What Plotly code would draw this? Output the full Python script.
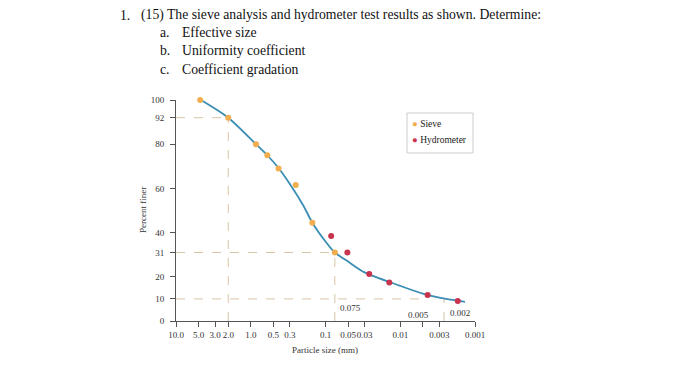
import plotly.graph_objects as go

# ---- data ----
sieve_size = [4.75, 2.0, 0.85, 0.6, 0.425, 0.25, 0.15, 0.075]
sieve_pct = [100, 92, 80, 75, 69, 61.5, 44.5, 31]

hydro_size = [0.084, 0.051, 0.026, 0.014, 0.0043, 0.0017]
hydro_pct = [38.5, 31, 21.3, 17.4, 11.8, 9.1]

curve_size = [4.64, 2.0, 0.85, 0.6, 0.42, 0.3, 0.2, 0.15, 0.1, 0.075,
              0.05, 0.03, 0.01, 0.005, 0.003, 0.00136]
curve_pct = [100, 92, 80, 75, 69, 62, 52.5, 44.5, 36, 31,
             26.9, 22, 15.9, 12.4, 10.6, 8.7]

ref_pct = [92, 31, 10]          # percent finer reference levels
ref_size = [2.0, 0.075, 0.0026]  # corresponding sizes (vertical lines)
ref_hend = [2.0, 0.075, 0.0045]  # end of horizontal dashed lines

x_tickvals = [10, 5, 3, 2, 1, 0.5, 0.3, 0.1, 0.05, 0.03, 0.01, 0.005, 0.003, 0.001]
x_ticktext = ["10.0", "5.0", "3.0", "2.0", "1.0", "0.5", "0.3", "0.1", "0.05", "0.03",
              "0.01", "", "0.003", "0.001"]
y_tickvals = [0, 10, 20, 31, 40, 60, 80, 92, 100]

legend_names = ["Sieve", "Hydrometer"]

header = [
    ("1.", 118, 15),
    ("(15) The sieve analysis and hydrometer test results as shown. Determine:", 139, 15),
    ("a.", 158, 33),
    ("Effective size", 180, 33),
    ("b.", 158, 51),
    ("Uniformity coefficient", 180, 51),
    ("c.", 158, 69),
    ("Coefficient gradation", 180, 69),
]

# ---- layout geometry (target page pixels; page body adds an 8px offset) ----
W, H = 700, 379
OFF = 8
L, R, T, B = 176, 475, 100, 321

def px(x):
    return (x - L) / (R - L)

def py(y):
    return (B - y) / (B - T)

SERIF = "Liberation Serif"
ORANGE = "#F2AE4E"
RED = "#C8344E"
TEAL = "#3A8DB3"
DASH = "#D9C4A6"

fig = go.Figure()

for s, p, e in zip(ref_size, ref_pct, ref_hend):
    fig.add_trace(go.Scatter(x=[10, e], y=[p, p], mode="lines",
                             line=dict(color=DASH, width=1, dash="dash"),
                             showlegend=False, hoverinfo="skip"))
    fig.add_trace(go.Scatter(x=[s, s], y=[0, p], mode="lines",
                             line=dict(color=DASH, width=1, dash="dash"),
                             showlegend=False, hoverinfo="skip"))

fig.add_trace(go.Scatter(x=curve_size, y=curve_pct, mode="lines",
                         line=dict(color=TEAL, width=1.8, shape="spline", smoothing=0.8),
                         showlegend=False, hoverinfo="skip", cliponaxis=False))
fig.add_trace(go.Scatter(x=sieve_size, y=sieve_pct, mode="markers", name="Sieve",
                         marker=dict(color=ORANGE, size=6), cliponaxis=False, showlegend=False))
fig.add_trace(go.Scatter(x=hydro_size, y=hydro_pct, mode="markers", name="Hydrometer",
                         marker=dict(color=RED, size=6), cliponaxis=False, showlegend=False))

ann = []
for t, x, y in header:
    ann.append(dict(text=t, x=px(x), y=py(y), xref="paper", yref="paper",
                    xanchor="left", yanchor="middle", showarrow=False,
                    font=dict(family=SERIF, size=13.7, color="#111")))

small = dict(family=SERIF, size=9, color="#333")
ann.append(dict(text="0.075", x=px(338), y=py(308), xref="paper", yref="paper",
                xanchor="left", yanchor="middle", showarrow=False, font=small))
ann.append(dict(text="0.005", x=px(418), y=py(315), xref="paper", yref="paper",
                xanchor="center", yanchor="middle", showarrow=False, font=small))
ann.append(dict(text="0.002", x=px(460), y=py(313), xref="paper", yref="paper",
                xanchor="center", yanchor="middle", showarrow=False, font=small))
ann.append(dict(text="Percent finer", x=px(143), y=py(210), xref="paper", yref="paper",
                xanchor="center", yanchor="middle", showarrow=False, textangle=-90,
                font=small))
ann.append(dict(text="Particle size (mm)", x=px(325), y=py(350), xref="paper", yref="paper",
                xanchor="center", yanchor="middle", showarrow=False, font=small))

# manual compact legend
for name, col, yy in zip(legend_names, [ORANGE, RED], [124, 140]):
    ann.append(dict(text=f'<span style="color:{col}">●</span> {name}',
                    x=px(410), y=py(yy), xref="paper", yref="paper",
                    xanchor="left", yanchor="middle", showarrow=False,
                    font=dict(family=SERIF, size=9.5, color="#222")))

shapes = [dict(type="rect", xref="paper", yref="paper",
               x0=px(407), x1=px(473), y0=py(113), y1=py(153),
               line=dict(color="#CCCCCC", width=1), fillcolor="rgba(0,0,0,0)")]

fig.update_layout(
    width=W, height=H,
    margin=dict(l=L - OFF, r=W - R + OFF, t=T - OFF, b=H - B + OFF, pad=0),
    paper_bgcolor="white", plot_bgcolor="white",
    annotations=ann, shapes=shapes, showlegend=False,
    xaxis=dict(type="log", range=[1, -3], tickvals=x_tickvals, ticktext=x_ticktext,
               tickangle=0,
               showgrid=False, zeroline=False, showline=True, linecolor="#555", linewidth=1,
               ticks="outside", ticklen=5, tickcolor="#555",
               tickfont=dict(family=SERIF, size=9, color="#333")),
    yaxis=dict(range=[0, 100], tickvals=y_tickvals, showgrid=False, zeroline=False,
               showline=True, linecolor="#555", linewidth=1,
               ticks="outside", ticklen=5, tickcolor="#555", ticklabelstandoff=4,
               tickfont=dict(family=SERIF, size=9, color="#333")),
)

fig.write_html("out.html")
